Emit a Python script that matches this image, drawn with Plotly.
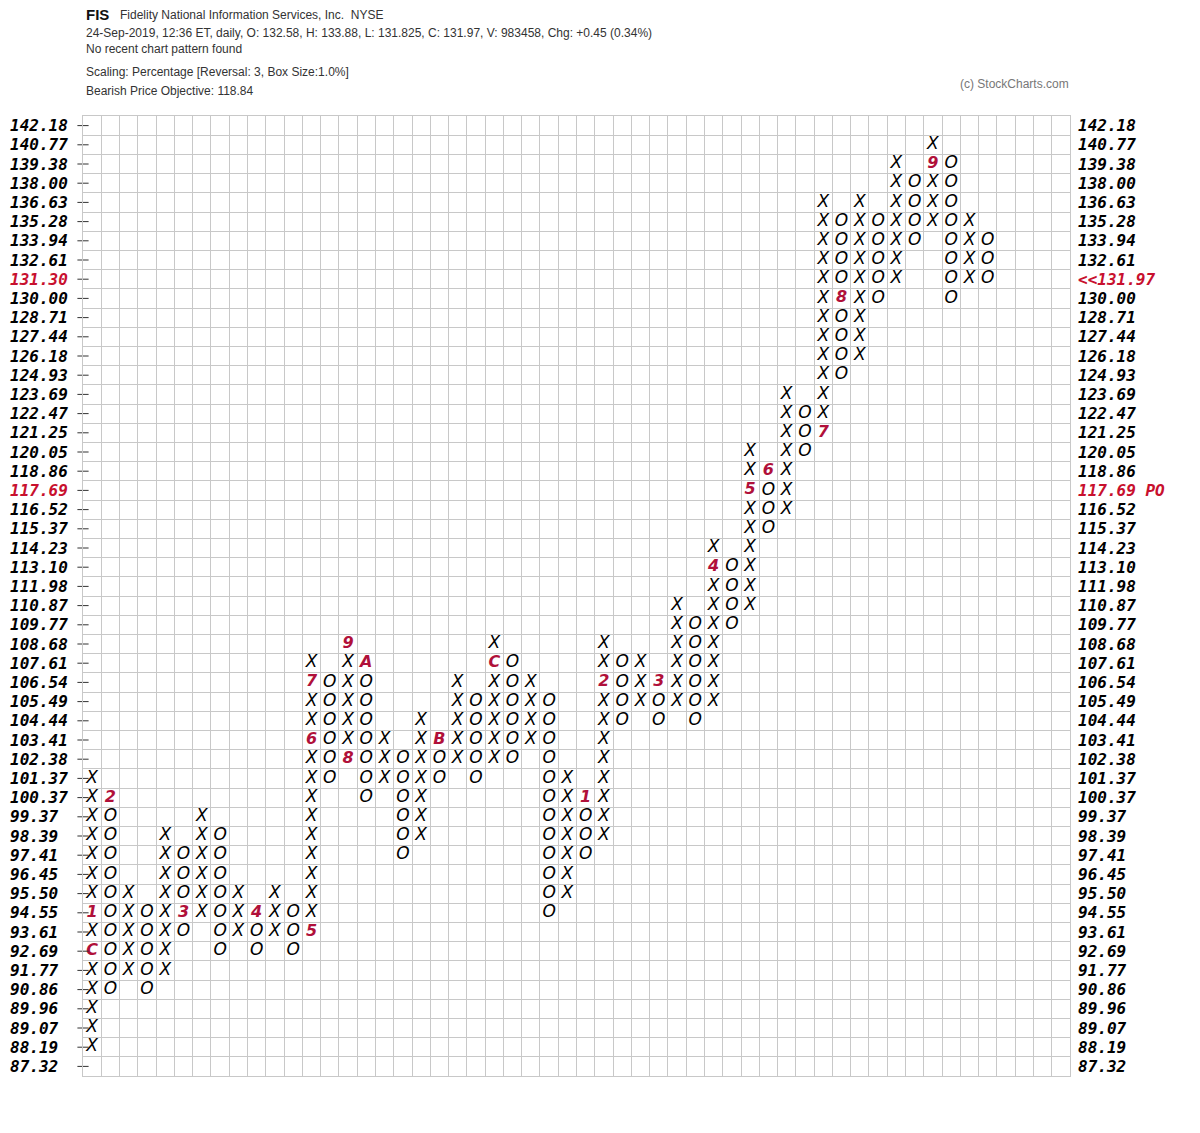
import plotly.graph_objects as go

levels = [87.32, 88.19, 89.07, 89.96, 90.86, 91.77, 92.69, 93.61, 94.55, 95.50, 96.45, 97.41,
          98.39, 99.37, 100.37, 101.37, 102.38, 103.41, 104.44, 105.49, 106.54, 107.61, 108.68,
          109.77, 110.87, 111.98, 113.10, 114.23, 115.37, 116.52, 117.69, 118.86, 120.05, 121.25,
          122.47, 123.69, 124.93, 126.18, 127.44, 128.71, 130.00, 131.30, 132.61, 133.94, 135.28,
          136.63, 138.00, 139.38, 140.77, 142.18]
level_labels = ["%.2f" % v for v in levels]

# column type and box range (low, high prices)
col_type = ["X", "O", "X", "O", "X", "O", "X", "O", "X", "O", "X", "O", "X", "O", "X", "O", "X",
            "O", "X", "O", "X", "O", "X", "O", "X", "O", "X", "O", "X", "O", "X", "O", "X", "O",
            "X", "O", "X", "O", "X", "O", "X", "O", "X", "O", "X", "O", "X", "O", "X", "O"]
col_low = [88.19, 90.86, 91.77, 90.86, 91.77, 93.61, 94.55, 92.69, 93.61, 92.69, 93.61, 92.69,
           93.61, 101.37, 102.38, 100.37, 101.37, 97.41, 98.39, 101.37, 102.38, 101.37, 102.38,
           102.38, 103.41, 94.55, 95.50, 97.41, 98.39, 104.44, 105.49, 104.44, 105.49, 104.44,
           105.49, 109.77, 110.87, 115.37, 116.52, 120.05, 121.25, 124.93, 126.18, 130.00, 131.30,
           133.94, 135.28, 130.00, 131.30, 131.30]
col_high = [101.37, 100.37, 95.50, 94.55, 98.39, 97.41, 99.37, 98.39, 95.50, 94.55, 95.50, 94.55,
            107.61, 106.54, 108.68, 107.61, 103.41, 102.38, 104.44, 103.41, 106.54, 105.49, 108.68,
            107.61, 106.54, 105.49, 101.37, 100.37, 108.68, 107.61, 107.61, 106.54, 110.87, 109.77,
            114.23, 113.10, 120.05, 118.86, 123.69, 122.47, 136.63, 135.28, 136.63, 135.28, 139.38,
            138.00, 140.77, 139.38, 135.28, 133.94]
# month markers: (column, price, label)
month_col = [0, 0, 1, 5, 9, 12, 12, 12, 14, 14, 15, 19, 22, 27, 28, 31, 34, 36, 37, 40, 41, 46]
month_price = [92.69, 94.55, 100.37, 94.55, 94.55, 93.61, 103.41, 106.54, 102.38, 108.68, 107.61,
               103.41, 107.61, 100.37, 106.54, 106.54, 113.10, 117.69, 118.86, 121.25, 130.00, 139.38]
month_label = ["C", "1", "2", "3", "4", "5", "6", "7", "8", "9", "A", "B", "C", "1", "2", "3",
               "4", "5", "6", "7", "8", "9"]

idx = {v: i for i, v in enumerate(levels)}
marks = {(c, idx[p]): l for c, p, l in zip(month_col, month_price, month_label)}

xs, ys, ts = [], [], []
mx, my, mt = [], [], []
for c, (t, lo, hi) in enumerate(zip(col_type, col_low, col_high)):
    for r in range(idx[lo], idx[hi] + 1):
        if (c, r) in marks:
            mx.append(c); my.append(r); mt.append("<b><i>%s</i></b>" % marks[(c, r)])
        else:
            xs.append(c); ys.append(r); ts.append("<i>%s</i>" % t)

L, T = 75, 108  # plot area origin in figure pixels (page has 8px body margin)

fig = go.Figure()
fig.add_trace(go.Scatter(x=xs, y=ys, text=ts, mode="text", hoverinfo="skip",
                         textfont=dict(family="DejaVu Sans", size=17, color="black")))
fig.add_trace(go.Scatter(x=mx, y=my, text=mt, mode="text", hoverinfo="skip",
                         textfont=dict(family="DejaVu Sans", size=16, color="#b0103a")))

red = "#c8102e"
ann = []
for i, lab in enumerate(level_labels):
    lc = red if lab in ("131.30", "117.69") else "black"
    rl = lab
    rc = "black"
    if lab == "131.30":
        rl, rc = "<<131.97", red
    if lab == "117.69":
        rl, rc = "117.69 PO", red
    ann.append(dict(x=0, xref="paper", xshift=-L - 8 + 8, y=i, yref="y", text="<b><i>%s</i></b>" % lab,
                    xanchor="left", showarrow=False,
                    font=dict(family="DejaVu Sans Mono", size=16, color=lc)))
    ann.append(dict(x=1, xref="paper", xshift=6, y=i, yref="y", text="<b><i>%s</i></b>" % rl,
                    xanchor="left", showarrow=False,
                    font=dict(family="DejaVu Sans Mono", size=16, color=rc)))
ann.append(dict(x=27.3, y=-1.45, xref="x", yref="y", text="<b><i>19</i></b>", showarrow=False,
                font=dict(family="DejaVu Sans", size=17, color="#333")))

hdr = dict(xref="paper", yref="paper", xanchor="left", yanchor="middle", showarrow=False,
           font=dict(family="Liberation Sans", size=12, color="#333"))
def H(px, py, text, **kw):
    # px, py are page coordinates
    d = dict(hdr); d.update(kw)
    d.update(text=text, x=0, xshift=(px - 8) - L, y=1, yshift=T - (py - 8))
    ann.append(d)
H(84, 14, "<b>FIS</b>", font=dict(family="Liberation Sans", size=15, color="#111"))
H(118, 15, "Fidelity National Information Services, Inc.  NYSE")
H(84, 33, "24-Sep-2019, 12:36 ET, daily, O: 132.58, H: 133.88, L: 131.825, C: 131.97, V: 983458, Chg: +0.45 (0.34%)")
H(84, 49, "No recent chart pattern found")
H(84, 72, "Scaling: Percentage [Reversal: 3, Box Size:1.0%]")
H(84, 91, "Bearish Price Objective: 118.84")
H(958, 84, "(c) StockCharts.com", font=dict(family="Liberation Sans", size=12, color="#777"))

fig.update_layout(
    width=1200, height=1133, margin=dict(l=L, r=138, t=T, b=65),
    plot_bgcolor="white", paper_bgcolor="white", showlegend=False, annotations=ann,
)
fig.update_xaxes(range=[-0.5, 53.5], tickmode="linear", tick0=-0.5, dtick=1, showticklabels=False,
                 showgrid=True, gridcolor="#c8c8c8", gridwidth=1, zeroline=False,
                 showline=True, linecolor="#c8c8c8", mirror=True)
fig.update_yaxes(range=[-0.5, 49.5], tickmode="linear", tick0=-0.5, dtick=1, showticklabels=False,
                 showgrid=True, gridcolor="#c8c8c8", gridwidth=1, zeroline=False,
                 showline=True, linecolor="#c8c8c8", mirror=True)
fig.add_trace(go.Scatter(x=[-0.5] * len(levels), y=list(range(len(levels))), mode="markers",
                         marker=dict(symbol="line-ew", size=8, line=dict(width=1, color="#333")),
                         hoverinfo="skip", cliponaxis=False))
fig.write_html("out.html")
